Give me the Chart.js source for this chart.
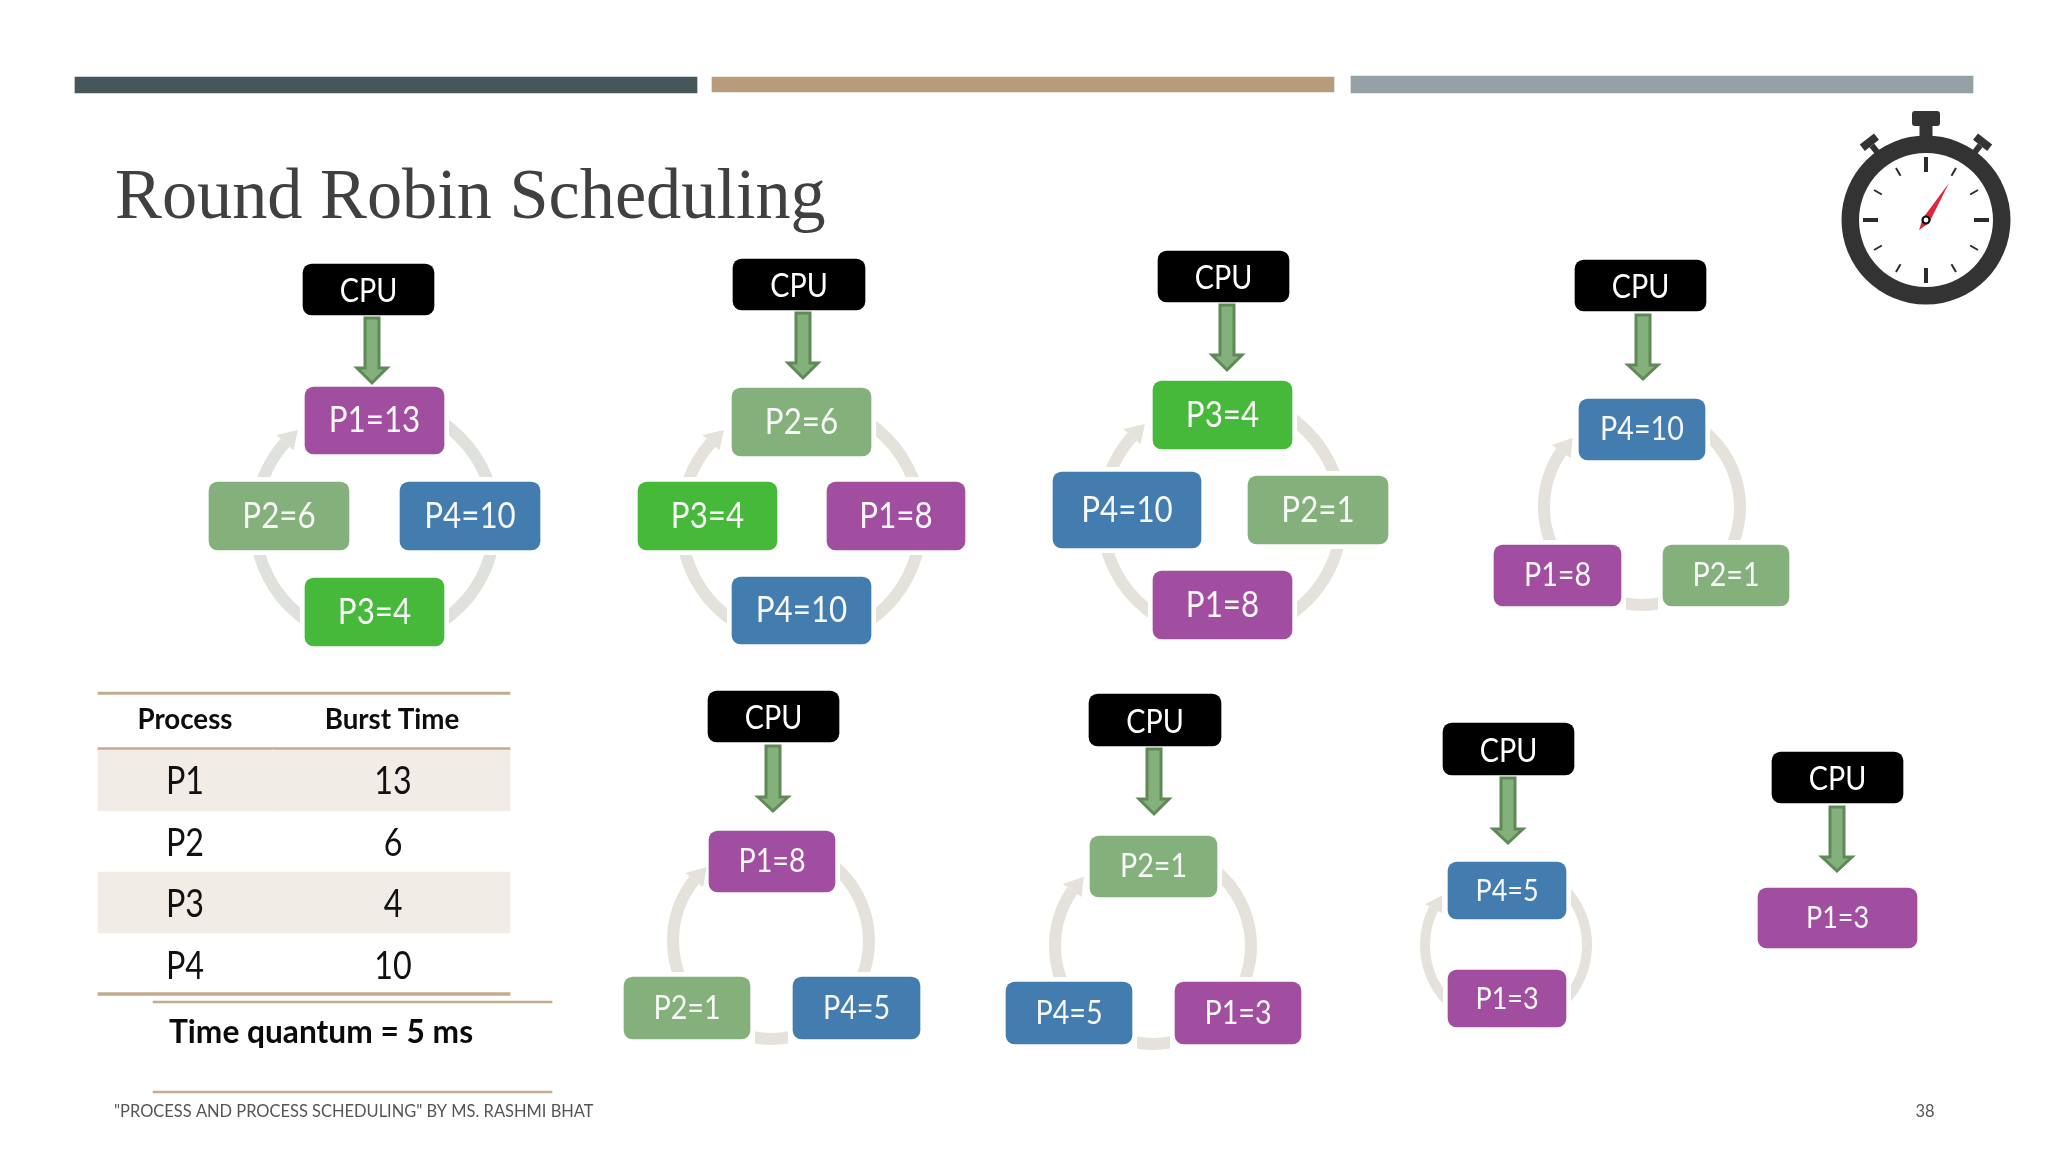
<!DOCTYPE html>
<html><head><meta charset="utf-8">
<style>html,body{margin:0;padding:0;background:#fff}canvas{display:block}</style>
<script src="https://cdn.jsdelivr.net/npm/chart.js@4"></script></head>
<body><canvas id="c" width="2048" height="1152" style="width:2048px;height:1152px"></canvas>
<script>
// ---- values ----
const titleText = 'Round Robin Scheduling';
const footerText = '"PROCESS AND PROCESS SCHEDULING" BY MS. RASHMI BHAT';
const pageNumber = '38';
const tableHeader = ['Process', 'Burst Time'];
const processNames = ['P1', 'P2', 'P3', 'P4'];
const burstTimes = [13, 6, 4, 10];
const quantumText = 'Time quantum = 5 ms';
const cpuLabel = 'CPU';
const round1 = [['P1',13],['P4',10],['P3',4],['P2',6]];
const round2 = [['P2',6],['P1',8],['P4',10],['P3',4]];
const round3 = [['P3',4],['P2',1],['P1',8],['P4',10]];
const round4 = [['P4',10],['P2',1],['P1',8]];
const round5 = [['P1',8],['P4',5],['P2',1]];
const round6 = [['P2',1],['P1',3],['P4',5]];
const round7 = [['P4',5],['P1',3]];
const round8 = [['P1',3]];
const rounds = [round1,round2,round3,round4,round5,round6,round7,round8];

// ---- layout in axis units (left, top, right, bottom) ----
const boxLayout = [
 [[305,387,444,454],[400,482,540,550],[305,578,444,646],[209,482,349,550]],
 [[732,388,871,456],[827,482,965,550],[732,577,871,644],[638,482,777,550]],
 [[1153,381,1292,449],[1248,476,1388,544],[1153,571,1292,639],[1053,472,1201,548]],
 [[1579,399,1705,460],[1663,545,1789,606],[1494,545,1621,606]],
 [[709,831,835,892],[793,977,920,1039],[624,977,750,1039]],
 [[1090,836,1217,897],[1175,982,1301,1044],[1006,982,1132,1044]],
 [[1448,862,1566,919],[1448,970,1566,1027]],
 [[1758,888,1917,948]]
];
const cpuLayout = [[303,264,434,315],[733,259,865,310],[1158,251,1289,302],[1575,260,1706,311],
 [708,691,839,742],[1089,694,1221,746],[1443,723,1574,775],[1772,752,1903,803]];
// shaft centre, top, head start, tip
const arrowLayout = [[372,318,368,383],[803,313,363,378],[1227,305,355,370],[1643,315,365,379],
 [773,746,797,811],[1154,749,799,814],[1508,778,829,843],[1837,807,857,871]];
// centre x, centre y, mid radius, band, tip angle in degrees
const ringLayout = [[375,522,120,12,230,'#dfe1dc'],[801,522,120,12,230,'#e5e1db'],[1222,516,120,12,230,'#e5e1db'],
 [1642,507,98,12,225,'#e5e1db'],[771,941,98,12,229,'#e5e1db'],[1153,946,98,12,225,'#e5e1db'],[1506,945,81,10,218,'#e5e1db']];
const topBars = [[75,77,697,93,'#46575b'],[712,77,1334,92,'#b79c7c'],[1351,76,1973,93,'#95a1a6']];
const ruleBars = [[98,692,510,694.5],[98,747.5,510,750.5],[98,992.5,510,995.5],[153,1001,552,1003],[153,1091,552,1093]];
const stripeBars = [[98,750,510,811],[98,872,510,933]];
const processColors = {P1:'#a14da0',P2:'#84b07c',P3:'#46b83a',P4:'#437db0'};
const rowCentres = [782,844,905,967];
const fontFamily = 'Lato';

// ---- datasets ----
function box(b,color,radius){
  return {type:'bar',stack:'s',data:[{x:[b[0],b[2]],y:(b[1]+b[3])/2}],barThickness:b[3]-b[1],
    backgroundColor:color,borderRadius:radius,borderSkipped:false,borderWidth:0};
}
const datasets=[];
topBars.forEach(b=>datasets.push(box(b,b[4],0)));
stripeBars.forEach(b=>datasets.push(box(b,'#f1ede6',0)));
datasets.push(box([272.5,750,274,811],'#f8f6f2',0),box([272.5,872,274,933],'#f8f6f2',0));
ruleBars.forEach(b=>datasets.push(box(b,'#c5ab8d',0)));
cpuLayout.forEach(b=>datasets.push(box(b,'#000000',9)));
rounds.forEach((r,i)=>r.forEach((p,j)=>datasets.push(box(boxLayout[i][j],processColors[p[0]],9))));

const painter={id:'painter',
 beforeDatasetsDraw(ch){
  const c=ch.ctx,X=v=>ch.scales.x.getPixelForValue(v),Y=v=>ch.scales.y.getPixelForValue(v);
  c.save();
  ringLayout.forEach(r=>{
    const t=r[4]*Math.PI/180,d=(r[3]+6)/r[2];
    c.beginPath();c.lineWidth=r[3];c.strokeStyle=r[5];
    c.arc(X(r[0]),Y(r[1]),r[2],-Math.PI/2,t-d);c.stroke();
  });
  c.fillStyle='#fff';
  boxLayout.forEach(g=>g.forEach(b=>c.fillRect(X(b[0])-5,Y(b[1])-5,X(b[2])-X(b[0])+10,Y(b[3])-Y(b[1])+10)));
  ringLayout.forEach(r=>{
    const t=r[4]*Math.PI/180,d=(r[3]+6)/r[2],hw=r[3]*0.95,cx=X(r[0]),cy=Y(r[1]),R=r[2];
    const P=(rad,a)=>[cx+rad*Math.cos(a),cy+rad*Math.sin(a)];
    c.beginPath();c.fillStyle=r[5];
    c.moveTo(...P(R+hw,t-d));c.lineTo(...P(R,t));c.lineTo(...P(R-hw,t-d));c.closePath();c.fill();
  });
  c.restore();
 },
 afterDatasetsDraw(ch){
  const c=ch.ctx,X=v=>ch.scales.x.getPixelForValue(v),Y=v=>ch.scales.y.getPixelForValue(v);
  const T=(s,x,y,font,col,al,ratio)=>{c.font=font;c.fillStyle=col;c.textAlign=al||'center';c.textBaseline='middle';
    c.fillText(s,X(x),Y(y),c.measureText(s).width*(ratio||1));};
  c.save();
  // down arrows
  arrowLayout.forEach(a=>{
    const m=X(a[0]);
    c.beginPath();
    c.moveTo(m-7,Y(a[1]));c.lineTo(m+7,Y(a[1]));c.lineTo(m+7,Y(a[2]));c.lineTo(m+15,Y(a[2]));
    c.lineTo(m,Y(a[3]));c.lineTo(m-15,Y(a[2]));c.lineTo(m-7,Y(a[2]));c.closePath();
    c.fillStyle='#84b07c';c.fill();c.lineWidth=3;c.strokeStyle='#5f8a58';c.stroke();
  });
  // box text
  cpuLayout.forEach(b=>T(cpuLabel,(b[0]+b[2])/2,(b[1]+b[3])/2+2,'33px '+fontFamily,'#fff','center',0.87));
  rounds.forEach((r,i)=>r.forEach((p,j)=>{
    const b=boxLayout[i][j],sz=i<3?36:(i===6||i===7?31:33);
    T(p[0]+'='+p[1],(b[0]+b[2])/2,(b[1]+b[3])/2,sz+'px '+fontFamily,'#f7f7f7','center',0.87);
  }));
  // title and table text
  T(titleText,115,199,'71px "Liberation Serif"','#404040','left',0.99);
  T(tableHeader[0],185,720,'bold 28px '+fontFamily,'#0d0d0d','center',0.99);
  T(tableHeader[1],392,720,'bold 28px '+fontFamily,'#0d0d0d','center',0.99);
  processNames.forEach((n,i)=>{
    T(n,185,rowCentres[i],'38px '+fontFamily,'#111','center',0.85);
    T(String(burstTimes[i]),393,rowCentres[i],'38px '+fontFamily,'#111','center',0.85);
  });
  T(quantumText,321,1032,'bold 33px '+fontFamily,'#0a0a0a','center',0.96);
  T(footerText,114,1111,'17.5px '+fontFamily,'#555','left',0.94);
  T(pageNumber,1925,1111,'17.5px '+fontFamily,'#555','center',0.94);
  // stopwatch
  const cx=X(1926),cy=Y(220),col='#333333';
  c.fillStyle=col;
  c.beginPath();c.roundRect(cx-14,Y(111),28,15,3);c.fill();
  c.fillRect(cx-6.5,Y(125),13,14);
  [-1,1].forEach(s=>{
    c.save();c.translate(cx+s*56,cy-77);c.rotate(s*38*Math.PI/180);
    c.fillRect(-9,-5,18,8);c.fillRect(-3,3,6,10);c.restore();
  });
  c.beginPath();c.arc(cx,cy,84.5,0,7);c.fill();
  c.beginPath();c.fillStyle='#fff';c.arc(cx,cy,67,0,7);c.fill();
  c.strokeStyle='#2b2b2b';c.lineCap='butt';
  for(let h=0;h<12;h++){
    const a=h*Math.PI/6,big=h%3===0,r1=big?48:51,r2=big?63:60;
    c.beginPath();c.lineWidth=big?4:2;
    c.moveTo(cx+r1*Math.sin(a),cy-r1*Math.cos(a));c.lineTo(cx+r2*Math.sin(a),cy-r2*Math.cos(a));c.stroke();
  }
  c.beginPath();c.fillStyle='#e0263a';
  c.moveTo(cx+23,cy-37);c.lineTo(cx+3,cy+3);c.lineTo(cx-7,cy+10);c.lineTo(cx-3,cy-2);c.closePath();c.fill();
  c.beginPath();c.arc(cx,cy,3.5,0,7);c.fillStyle='#fff';c.fill();c.lineWidth=2.2;c.strokeStyle='#111';c.stroke();
  c.restore();
 }
};

new Chart(document.getElementById('c'),{
  type:'bar',
  data:{datasets},
  plugins:[painter],
  options:{
    indexAxis:'y',responsive:false,animation:false,devicePixelRatio:1,
    layout:{padding:0},
    plugins:{legend:{display:false},tooltip:{enabled:false},title:{display:false}},
    scales:{
      x:{type:'linear',min:0,max:2048,display:false,stacked:false},
      y:{type:'linear',min:0,max:1152,reverse:true,display:false,stacked:true,offset:false}
    }
  }
});
</script></body></html>
